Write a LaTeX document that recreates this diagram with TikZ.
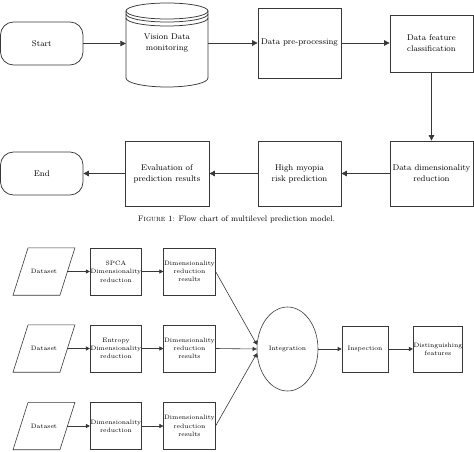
\documentclass[tikz,border=0pt]{standalone}
\usetikzlibrary{arrows.meta,shapes.geometric}
\begin{document}
\begin{tikzpicture}[x=1pt,y=-1pt,
  line/.style={draw=black!78,line width=0.75pt},
  topfont/.style={font=\fontsize{8.3}{11}\selectfont},
  botfont/.style={font=\fontsize{6.3}{8.3}\selectfont},
  topbox/.style={line,topfont,align=center,inner sep=1pt,minimum width=83pt},
  term/.style={topbox,rounded corners=13pt,minimum width=82.5pt,minimum height=43pt},
  botbox/.style={line,line width=0.6pt,botfont,align=center,inner sep=0.5pt,minimum width=46pt,minimum height=47pt},
  dataset/.style={botfont,minimum width=46.5pt,minimum height=47pt,inner sep=0pt},
  bigarr/.style={line,-{Triangle[length=5.5pt,width=5.5pt]}},
  smallarr/.style={line,line width=0.6pt,-{Triangle[length=4pt,width=4pt]}}
]
\useasboundingbox (0,0) rectangle (474,452);
% ---------- Figure 1 ----------
\node[term] (start) at (41.75,43.5) {Start};
% cylinder
\draw[line] (167,11) ellipse [x radius=41,y radius=8];
\draw[line] (126,11) -- (126,78) arc[start angle=180,end angle=0,x radius=41,y radius=9] -- (208,11);
\draw[line] (126,14) arc[start angle=180,end angle=0,x radius=41,y radius=8];
\draw[line] (126,18) arc[start angle=180,end angle=0,x radius=41,y radius=8];
\node[topfont,align=center,minimum width=82pt,minimum height=60pt,inner sep=0pt] (cyl) at (167,43) {Vision Data\\monitoring};
\node[topbox,minimum height=70pt] (pre) at (299.5,43) {Data pre-processing};
\node[topbox,minimum height=57pt] (feat) at (431.5,43.5) {Data feature\\classification};
\node[topbox,minimum height=65pt] (dim) at (431.5,173.5) {Data dimensionality\\reduction};
\node[topbox,minimum height=65pt] (risk) at (299.5,173.5) {High myopia\\risk prediction};
\node[topbox,minimum height=65pt,minimum width=84pt] (eval) at (167,173.5) {Evaluation of\\prediction results};
\node[term] (end) at (41.75,173.5) {End};
\draw[bigarr] (start.east) -- (start.east -| cyl.west);
\draw[bigarr] (cyl.east |- pre.west) -- (pre.west);
\draw[bigarr] (pre.east) -- (pre.east -| feat.west);
\draw[bigarr] (feat.south) -- (dim.north);
\draw[bigarr] (dim.west) -- (risk.east);
\draw[bigarr] (risk.west) -- (eval.east);
\draw[bigarr] (eval.west) -- (end.east);
\node[font=\fontsize{8}{10}\selectfont] (cap) at (236.5,219) {\textsc{Figure} 1: Flow chart of multilevel prediction model.};
% ---------- Figure 2 ----------
\foreach \r/\y/\m in {1/271.5/{SPCA\\Dimensionality\\reduction},2/348.5/{Entropy\\Dimensionality\\reduction},3/426/{Dimensionality\\reduction}}{
  \node[dataset] (ds\r) at (44,\y) {Dataset};
  \draw[line,line width=0.6pt] ([xshift=7.5pt]ds\r.north west) -- ([xshift=7.5pt]ds\r.north east)
     -- ([xshift=-7.5pt]ds\r.south east) -- ([xshift=-7.5pt]ds\r.south west) -- cycle;
  \node[botbox] (dr\r) at (116,\y) {\m};
  \node[botbox,minimum width=45pt] (res\r) at (189.5,\y) {Dimensionality\\reduction\\results};
  \draw[smallarr] (ds\r.east) -- (dr\r.west);
  \draw[smallarr] (dr\r.east) -- (res\r.west);
}
\node[line,line width=0.6pt,ellipse,botfont,minimum width=61pt,minimum height=84pt,inner sep=0pt] (integ) at (287.5,349) {Integration};
\node[botbox,minimum height=46pt] (insp) at (365,349) {Inspection};
\node[botbox,minimum height=46pt] (dist) at (438,349) {Distinguishing\\features};
\draw[smallarr] (res1.east) -- (integ.172);
\draw[smallarr] (res2.east) -- (integ.west);
\draw[smallarr] (res3.east) -- (integ.188);
\draw[smallarr] (integ.east) -- (insp.west);
\draw[smallarr] (insp.east) -- (dist.west);
\end{tikzpicture}
\end{document}
